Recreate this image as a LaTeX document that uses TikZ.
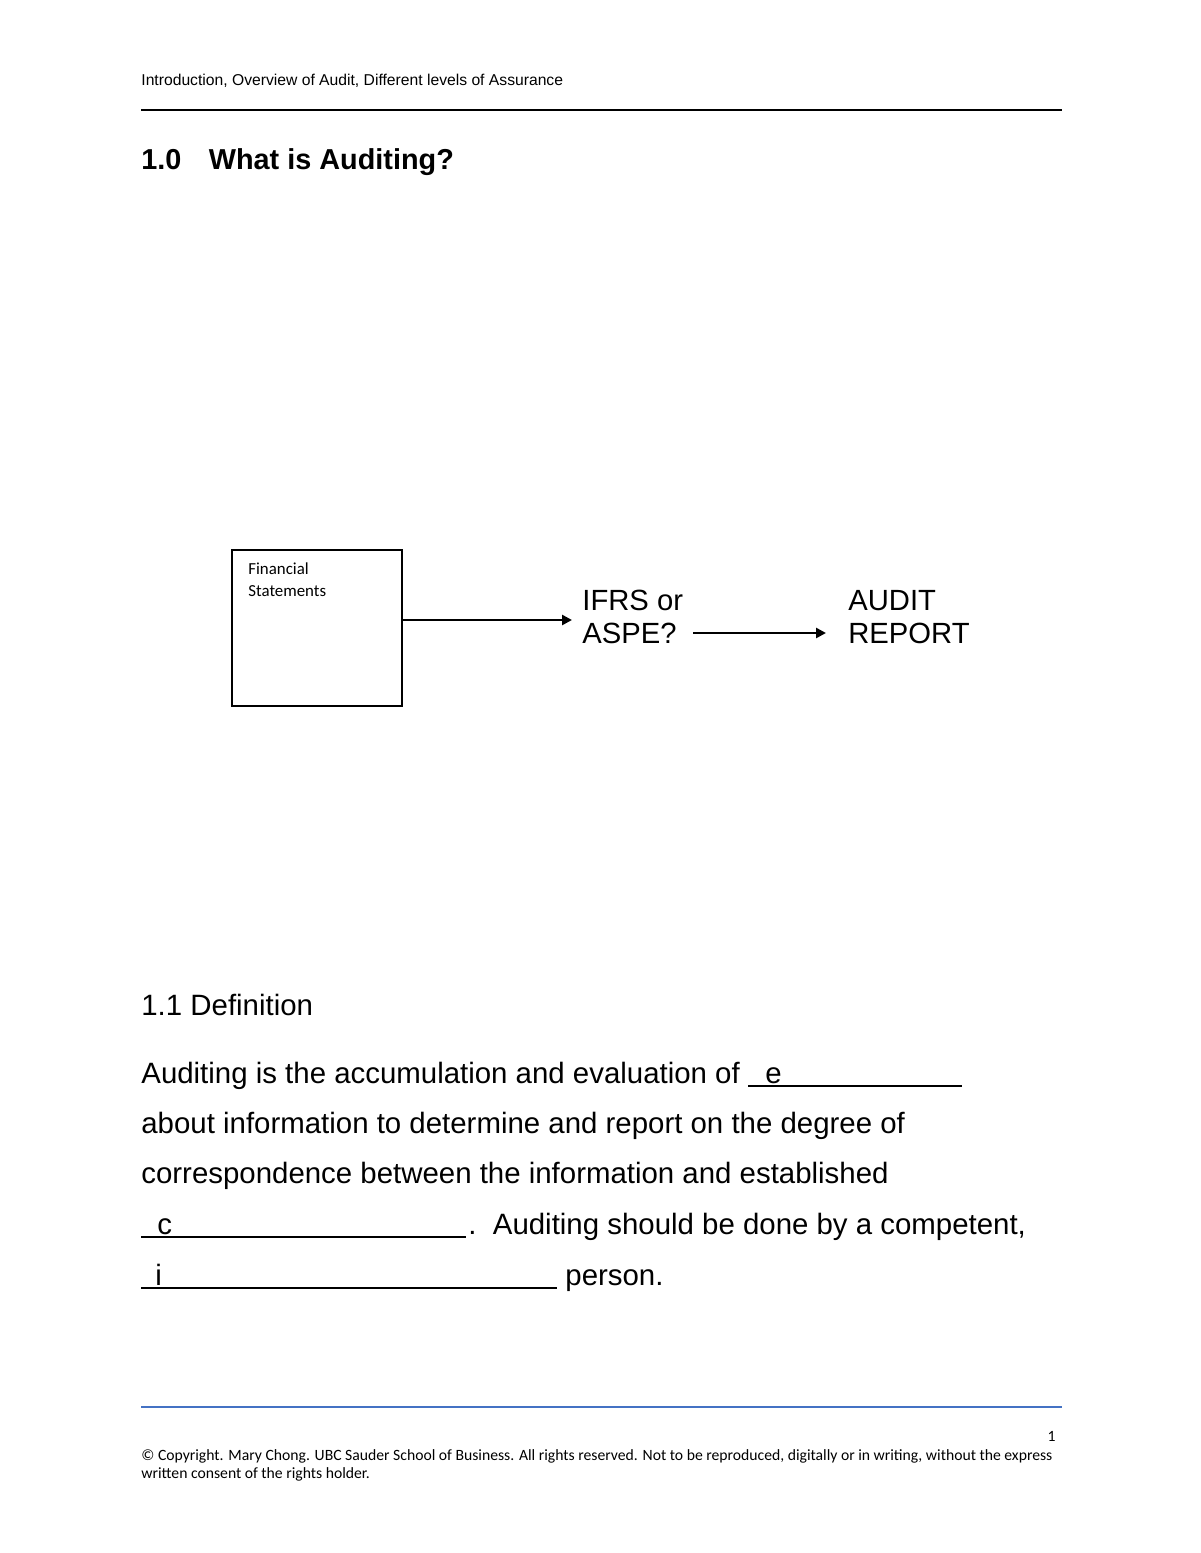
\documentclass[tikz,border=0pt]{standalone}
\usepackage{fontspec}
\setmainfont{Liberation Sans}
\newfontfamily\notefont{Carlito}
\usetikzlibrary{arrows.meta}
\definecolor{rulebl}{RGB}{68,114,196}
\tikzset{
  txt/.style={anchor=base west,inner sep=0pt,font=\fontsize{15}{17}\selectfont},
  blank/.style={line width=0.6pt},
  flow/.style={line width=1.3pt,-{Triangle[length=5pt,width=5pt]}}
}
\begin{document}
\begin{tikzpicture}[x=0.51pt,y=-0.51pt]
\useasboundingbox (0,0) rectangle (1200,1553);
% header
\node[txt,font=\fontsize{8}{9}\selectfont] (head) at (141,86) {Introduction, Overview of Audit, Different levels of Assurance};
\draw[line width=0.6pt] (141,110) -- (1062,110);
\node[txt,font=\bfseries\fontsize{14.7}{17}\selectfont] (title) at (141,170) {1.0\hspace{14pt}What is Auditing?};
% diagram
\node[draw,line width=1pt,minimum width=87pt,minimum height=80pt,inner sep=0pt] (fs) at (317,628) {};
\node[anchor=north west,inner sep=0pt,align=left,font=\notefont\fontsize{8.6}{11.5}\selectfont] (fslbl) at (248,562) {Financial\\Statements};
\node[anchor=west,inner sep=0pt,align=left,font=\fontsize{14.9}{17}\selectfont] (ifrs) at (582,617) {IFRS or\\ASPE?};
\node[anchor=west,inner sep=0pt,align=left,font=\fontsize{14.9}{17}\selectfont] (audit) at (848,617) {AUDIT\\REPORT};
\coordinate (a1) at (fs.east |- 0,620);
\coordinate (a2) at (572,620);
\coordinate (b1) at (693,633);
\coordinate (b2) at (826,633);
\draw[flow] (a1) -- (a2);
\draw[flow] (b1) -- (b2);
% definition
\node[txt] (defh) at (141,1015) {1.1 Definition};
\node[txt] (l1) at (141,1083) {Auditing is the accumulation and evaluation of};
\node[txt] (e) at (765,1083) {e};
\draw[blank] (748,1086) -- (962,1086);
\draw[line width=1.4pt] (762,1086) -- (796,1086);
\node[txt] (l2) at (141,1133) {about information to determine and report on the degree of};
\node[txt] (l3) at (141,1183) {correspondence between the information and established};
\node[txt] (c) at (157,1234) {c};
\draw[blank] (141,1237) -- (466,1237);
\draw[line width=1.4pt] (155,1237) -- (270,1237);
\node[txt] (l4) at (468,1234) {.\ \ Auditing should be done by a competent,};
\node[txt] (i) at (155,1285) {i};
\draw[blank] (141,1288) -- (557,1288);
\draw[line width=1.4pt] (155,1288) -- (490,1288);
\node[txt] (l5) at (565,1285) {person.};
% footer
\draw[rulebl,line width=1pt] (141,1407) -- (1062,1407);
\node[anchor=base east,inner sep=0pt,font=\notefont\fontsize{8}{9}\selectfont] (pg) at (1056,1441) {1};
\node[anchor=north west,inner sep=0pt,align=left,font=\notefont\fontsize{8}{9.2}\selectfont] (copy) at (141,1449)
  {© Copyright. Mary Chong. UBC Sauder School of Business. All rights reserved. Not to be reproduced, digitally or in writing, without the express\\written consent of the rights holder.};
\end{tikzpicture}
\end{document}
